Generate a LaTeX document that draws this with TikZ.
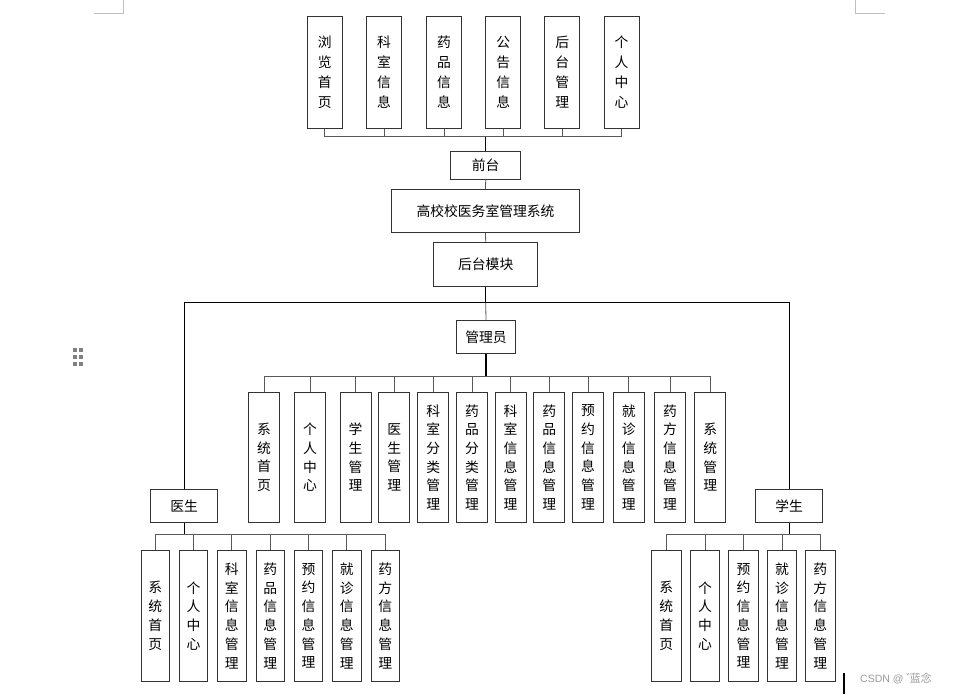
\documentclass[tikz,border=0pt]{standalone}
\usepackage{fontspec}
\setmainfont{Noto Sans CJK SC}
\newfontfamily\latinfont{Liberation Sans}
\begin{document}
\begin{tikzpicture}[x=1pt,y=-1pt,
    box/.style={draw=black!80,line width=0.9pt,fill=white,inner sep=0pt,align=center,
        font=\fontsize{13.8}{20}\selectfont},
    topbox/.style={box,minimum width=35pt,minimum height=111.6pt},
    adminbox/.style={box,minimum width=31pt,minimum height=130pt,font=\fontsize{13.8}{18.7}\selectfont},
    docbox/.style={box,minimum width=28.3pt,minimum height=130.3pt,font=\fontsize{13.8}{18.7}\selectfont},
    stubox/.style={box,minimum width=29.5pt,minimum height=130.3pt,font=\fontsize{13.8}{18.7}\selectfont},
    link/.style={draw=black!65,line width=0.8pt},
    trunk/.style={draw=black,line width=1.4pt}]
    \useasboundingbox (0,0) rectangle (961,694);
    % page marks
    \draw[black!25] (94,13) -- (123,13) -- (123,0);
    \draw[black!25] (855,0) -- (855,13) -- (885,13);
    \foreach \y in {348,355,362} {
        \fill[black!50] (73,\y) rectangle ++(3.6,3.6);
        \fill[black!50] (79.2,\y) rectangle ++(3.6,3.6);
    }
    % front end
    \foreach \x/\t [count=\i] in {324.7/{浏\\览\\首\\页},384/{科\\室\\信\\息},444/{药\\品\\信\\息},
        503.3/{公\\告\\信\\息},562.3/{后\\台\\管\\理},621.5/{个\\人\\中\\心}}
        \node[topbox] (top\i) at (\x,72.5) {\t};
    \node[box,minimum width=70pt,minimum height=27.3pt] (front) at (485.7,165.3) {前台};
    \node[box,minimum width=187.7pt,minimum height=43pt] (system) at (485.5,210.8) {高校校医务室管理系统};
    \node[box,minimum width=104pt,minimum height=43.7pt] (back) at (485.7,264.2) {后台模块};
    \coordinate (frontbus) at (485.7,136.7);
    \foreach \i in {1,...,6}
        \draw[link] (top\i.south) |- (frontbus);
    \draw[trunk] (frontbus) -- (front.north);
    \draw[link] (front.south) -- (system.north);
    \draw[link] (system.south) -- (back.north);
    % roles
    \node[box,minimum width=59pt,minimum height=32.7pt] (admin) at (486,337) {管理员};
    \node[box,minimum width=66.6pt,minimum height=33pt] (doctor) at (184.2,505.8) {医生};
    \node[box,minimum width=66.6pt,minimum height=33.4pt] (student) at (789.2,506) {学生};
    \coordinate (backbus) at (485.7,302.7);
    \draw[trunk] (back.south) -- (backbus);
    \draw[link] (backbus) -- (admin.north);
    \draw[draw=black,line width=0.9pt] (backbus) -| (doctor.north);
    \draw[draw=black,line width=0.9pt] (backbus) -| (student.north);
    % admin modules
    \foreach \x/\t [count=\i] in {264/{系\\统\\首\\页},310/{个\\人\\中\\心},355.6/{学\\生\\管\\理},
        394.2/{医\\生\\管\\理},433.2/{科\\室\\分\\类\\管\\理},472/{药\\品\\分\\类\\管\\理},
        510.6/{科\\室\\信\\息\\管\\理},549.2/{药\\品\\信\\息\\管\\理},588/{预\\约\\信\\息\\管\\理},
        628.8/{就\\诊\\信\\息\\管\\理},670/{药\\方\\信\\息\\管\\理},710.3/{系\\统\\管\\理}}
        \node[adminbox] (a\i) at (\x,457.3) {\t};
    \coordinate (adminbus) at (486,376);
    \draw[trunk] (admin.south) -- (adminbus);
    \foreach \i in {1,...,12}
        \draw[link] (a\i.north) |- (adminbus);
    % doctor modules
    \foreach \x/\t [count=\i] in {155.2/{系\\统\\首\\页},193.5/{个\\人\\中\\心},231.8/{科\\室\\信\\息\\管\\理},
        270.2/{药\\品\\信\\息\\管\\理},308.5/{预\\约\\信\\息\\管\\理},346.8/{就\\诊\\信\\息\\管\\理},
        385.2/{药\\方\\信\\息\\管\\理}}
        \node[docbox] (d\i) at (\x,615.8) {\t};
    \coordinate (docbus) at (184.2,534);
    \draw[trunk] (doctor.south) -- (docbus);
    \foreach \i in {1,...,7}
        \draw[link] (d\i.north) |- (docbus);
    % student modules
    \foreach \x/\t [count=\i] in {666.3/{系\\统\\首\\页},705/{个\\人\\中\\心},743.5/{预\\约\\信\\息\\管\\理},
        782/{就\\诊\\信\\息\\管\\理},820.3/{药\\方\\信\\息\\管\\理}}
        \node[stubox] (s\i) at (\x,615.8) {\t};
    \coordinate (stubus) at (789.2,534);
    \draw[trunk] (student.south) -- (stubus);
    \foreach \i in {1,...,5}
        \draw[link] (s\i.north) |- (stubus);
    % watermark
    \draw[line width=1.6pt] (844,673) -- (844,694);
    \node[anchor=west,inner sep=0pt,text=black!40,font=\fontsize{11}{12}\selectfont] (mark) at (860,679)
        {{\latinfont\fontsize{10.5}{12}\selectfont CSDN @ }゛\kern-0.7em 蓝念};
\end{tikzpicture}
\end{document}
